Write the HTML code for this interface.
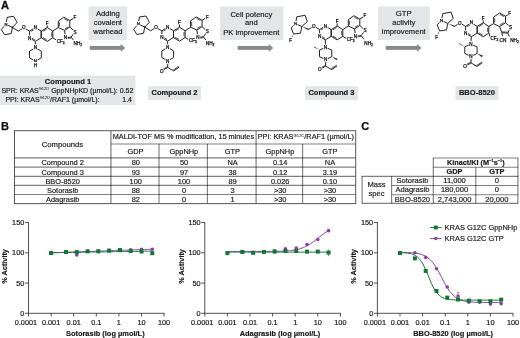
<!DOCTYPE html>
<html><head><meta charset="utf-8"><style>
html,body{margin:0;padding:0;background:#fff;}
svg{display:block;}
text{font-family:'Liberation Sans', Arial, Helvetica, sans-serif;}
.g text, text.g{stroke:#1a1a1a;stroke-width:0.18px;}
text.m{stroke:#111;stroke-width:0.25px;}
</style></head><body>
<svg width="520" height="338" viewBox="0 0 520 338">
<rect width="520" height="338" fill="#fff"/>
<text x="0.9" y="8.9" font-size="11.1" font-weight="bold" fill="#111" stroke="#111" stroke-width="0.3">A</text>
<rect x="88.5" y="6.5" width="38.7" height="33.5" fill="#e4e5e7"/>
<text class="g" x="107.85" y="16.3" font-size="7.6" text-anchor="middle" font-weight="normal" fill="#1a1a1a">Adding</text>
<text class="g" x="107.85" y="25.3" font-size="7.6" text-anchor="middle" font-weight="normal" fill="#1a1a1a">covalent</text>
<text class="g" x="107.85" y="34.3" font-size="7.6" text-anchor="middle" font-weight="normal" fill="#1a1a1a">warhead</text>
<rect x="89.8" y="45.949999999999996" width="31.5" height="3.9" fill="#88898d"/>
<polygon points="120.7,44.1 125.3,47.9 120.7,51.699999999999996" fill="#88898d"/>
<rect x="220.1" y="6.5" width="63.3" height="33.5" fill="#e4e5e7"/>
<text class="g" x="251.3" y="16.6" font-size="7.6" text-anchor="middle" font-weight="normal" fill="#1a1a1a">Cell potency</text>
<text class="g" x="251.3" y="25.4" font-size="7.6" text-anchor="middle" font-weight="normal" fill="#1a1a1a">and</text>
<text class="g" x="251.3" y="34.5" font-size="7.6" text-anchor="middle" font-weight="normal" fill="#1a1a1a">PK improvement</text>
<rect x="237.7" y="45.949999999999996" width="31.600000000000023" height="3.9" fill="#88898d"/>
<polygon points="268.7,44.1 273.3,47.9 268.7,51.699999999999996" fill="#88898d"/>
<rect x="378" y="6.5" width="51.8" height="33.5" fill="#e4e5e7"/>
<text class="g" x="403.8" y="16.2" font-size="7.8" text-anchor="middle" font-weight="normal" fill="#1a1a1a">GTP</text>
<text class="g" x="403.8" y="25.3" font-size="7.6" text-anchor="middle" font-weight="normal" fill="#1a1a1a">activity</text>
<text class="g" x="403.8" y="34.3" font-size="7.6" text-anchor="middle" font-weight="normal" fill="#1a1a1a">improvement</text>
<rect x="385.8" y="45.949999999999996" width="31.69999999999999" height="3.9" fill="#88898d"/>
<polygon points="416.9,44.1 421.5,47.9 416.9,51.699999999999996" fill="#88898d"/>
<line x1="6.00" y1="24.20" x2="7.20" y2="17.30" stroke="#161616" stroke-width="0.95"/>
<line x1="7.20" y1="17.30" x2="13.60" y2="16.30" stroke="#161616" stroke-width="0.95"/>
<line x1="13.60" y1="16.30" x2="17.10" y2="22.50" stroke="#161616" stroke-width="0.95"/>
<line x1="17.10" y1="22.50" x2="12.40" y2="27.40" stroke="#161616" stroke-width="0.95"/>
<line x1="12.40" y1="27.40" x2="6.00" y2="24.20" stroke="#161616" stroke-width="0.95"/>
<line x1="6.00" y1="24.20" x2="1.30" y2="29.60" stroke="#161616" stroke-width="0.95"/>
<line x1="1.30" y1="29.60" x2="4.60" y2="34.80" stroke="#161616" stroke-width="0.95"/>
<line x1="4.60" y1="34.80" x2="11.30" y2="33.50" stroke="#161616" stroke-width="0.95"/>
<line x1="11.30" y1="33.50" x2="12.40" y2="27.40" stroke="#161616" stroke-width="0.95"/>
<line x1="12.40" y1="27.40" x2="18.30" y2="31.10" stroke="#161616" stroke-width="0.95"/>
<circle cx="12.40" cy="27.40" r="0.75" fill="#111"/>
<line x1="18.30" y1="31.10" x2="23.70" y2="27.75" stroke="#161616" stroke-width="0.95"/>
<line x1="23.70" y1="27.75" x2="29.60" y2="31.10" stroke="#161616" stroke-width="0.95"/>
<line x1="29.60" y1="31.10" x2="35.30" y2="27.50" stroke="#161616" stroke-width="0.95"/>
<line x1="41.20" y1="31.10" x2="47.20" y2="27.50" stroke="#161616" stroke-width="0.95"/>
<line x1="35.30" y1="27.50" x2="41.20" y2="31.10" stroke="#161616" stroke-width="0.95"/>
<line x1="47.20" y1="27.50" x2="52.80" y2="31.10" stroke="#161616" stroke-width="0.95"/>
<line x1="41.20" y1="31.10" x2="41.20" y2="37.80" stroke="#161616" stroke-width="0.95"/>
<line x1="52.80" y1="31.10" x2="52.80" y2="37.80" stroke="#161616" stroke-width="0.95"/>
<line x1="41.20" y1="37.80" x2="35.30" y2="41.40" stroke="#161616" stroke-width="0.95"/>
<line x1="52.80" y1="37.80" x2="47.20" y2="41.40" stroke="#161616" stroke-width="0.95"/>
<line x1="35.30" y1="41.40" x2="29.60" y2="38.00" stroke="#161616" stroke-width="0.95"/>
<line x1="47.20" y1="41.40" x2="41.20" y2="37.80" stroke="#161616" stroke-width="0.95"/>
<line x1="29.60" y1="38.00" x2="29.60" y2="31.10" stroke="#161616" stroke-width="0.95"/>
<line x1="41.20" y1="37.80" x2="41.20" y2="31.10" stroke="#161616" stroke-width="0.95"/>
<line x1="31.21" y1="31.38" x2="34.86" y2="29.08" stroke="#161616" stroke-width="0.75"/>
<line x1="31.19" y1="37.67" x2="34.84" y2="39.84" stroke="#161616" stroke-width="0.75"/>
<line x1="42.85" y1="31.40" x2="46.69" y2="29.09" stroke="#161616" stroke-width="0.75"/>
<line x1="42.85" y1="37.50" x2="46.69" y2="39.81" stroke="#161616" stroke-width="0.75"/>
<line x1="51.70" y1="32.31" x2="51.70" y2="36.59" stroke="#161616" stroke-width="0.75"/>
<line x1="47.20" y1="27.50" x2="47.20" y2="24.30" stroke="#161616" stroke-width="0.95"/>
<text x="47.20" y="24.56" font-size="4.6" text-anchor="middle" fill="#fff" stroke="#fff" stroke-width="1.8" stroke-linejoin="round">F</text>
<text class="m" x="47.20" y="24.56" font-size="4.6" text-anchor="middle" fill="#111">F</text>
<line x1="52.80" y1="37.80" x2="56.40" y2="40.00" stroke="#161616" stroke-width="0.95"/>
<text x="56.80" y="42.60" font-size="4.5" text-anchor="start" fill="#fff" stroke="#fff" stroke-width="1.8" stroke-linejoin="round">CF<tspan font-size="3.2" dy="0.9">3</tspan></text>
<text class="m" x="56.80" y="42.60" font-size="4.5" text-anchor="start" fill="#111">CF<tspan font-size="3.2" dy="0.9">3</tspan></text>
<line x1="52.80" y1="31.10" x2="58.30" y2="27.50" stroke="#161616" stroke-width="0.95"/>
<line x1="58.30" y1="27.50" x2="58.30" y2="21.20" stroke="#161616" stroke-width="0.95"/>
<line x1="58.30" y1="21.20" x2="63.80" y2="17.20" stroke="#161616" stroke-width="0.95"/>
<line x1="63.80" y1="17.20" x2="69.80" y2="20.50" stroke="#161616" stroke-width="0.95"/>
<line x1="69.80" y1="20.50" x2="69.80" y2="27.00" stroke="#161616" stroke-width="0.95"/>
<line x1="69.80" y1="27.00" x2="64.60" y2="30.40" stroke="#161616" stroke-width="0.95"/>
<line x1="64.60" y1="30.40" x2="58.30" y2="27.50" stroke="#161616" stroke-width="0.95"/>
<line x1="59.40" y1="26.37" x2="59.40" y2="22.33" stroke="#161616" stroke-width="0.75"/>
<line x1="64.35" y1="18.76" x2="68.19" y2="20.87" stroke="#161616" stroke-width="0.75"/>
<line x1="68.26" y1="26.69" x2="64.93" y2="28.87" stroke="#161616" stroke-width="0.75"/>
<line x1="69.80" y1="20.50" x2="73.20" y2="18.50" stroke="#161616" stroke-width="0.95"/>
<text x="75.00" y="18.96" font-size="4.6" text-anchor="middle" fill="#fff" stroke="#fff" stroke-width="1.8" stroke-linejoin="round">F</text>
<text class="m" x="75.00" y="18.96" font-size="4.6" text-anchor="middle" fill="#111">F</text>
<line x1="69.80" y1="27.00" x2="75.10" y2="31.90" stroke="#161616" stroke-width="0.95"/>
<line x1="64.60" y1="30.40" x2="65.50" y2="37.70" stroke="#161616" stroke-width="0.95"/>
<line x1="65.50" y1="37.70" x2="71.10" y2="37.10" stroke="#161616" stroke-width="0.95"/>
<line x1="71.10" y1="37.10" x2="75.10" y2="31.90" stroke="#161616" stroke-width="0.95"/>
<line x1="65.60" y1="38.59" x2="71.20" y2="37.99" stroke="#161616" stroke-width="0.75"/>
<line x1="71.10" y1="37.10" x2="73.90" y2="40.70" stroke="#161616" stroke-width="0.95"/>
<text x="75.10" y="33.56" font-size="4.6" text-anchor="middle" fill="#fff" stroke="#fff" stroke-width="1.8" stroke-linejoin="round">S</text>
<text class="m" x="75.10" y="33.56" font-size="4.6" text-anchor="middle" fill="#111">S</text>
<text x="65.50" y="39.36" font-size="4.6" text-anchor="middle" fill="#fff" stroke="#fff" stroke-width="1.8" stroke-linejoin="round">N</text>
<text class="m" x="65.50" y="39.36" font-size="4.6" text-anchor="middle" fill="#111">N</text>
<text x="73.50" y="44.90" font-size="4.7" text-anchor="start" fill="#fff" stroke="#fff" stroke-width="1.8" stroke-linejoin="round">NH<tspan font-size="3.3" dy="0.9">2</tspan></text>
<text class="m" x="73.50" y="44.90" font-size="4.7" text-anchor="start" fill="#111">NH<tspan font-size="3.3" dy="0.9">2</tspan></text>
<line x1="35.30" y1="41.40" x2="35.40" y2="47.70" stroke="#161616" stroke-width="0.95"/>
<line x1="35.40" y1="47.70" x2="29.50" y2="51.20" stroke="#161616" stroke-width="0.95"/>
<line x1="29.50" y1="51.20" x2="29.50" y2="57.80" stroke="#161616" stroke-width="0.95"/>
<line x1="29.50" y1="57.80" x2="35.40" y2="61.30" stroke="#161616" stroke-width="0.95"/>
<line x1="35.40" y1="61.30" x2="41.30" y2="57.80" stroke="#161616" stroke-width="0.95"/>
<line x1="41.30" y1="57.80" x2="41.30" y2="51.20" stroke="#161616" stroke-width="0.95"/>
<line x1="41.30" y1="51.20" x2="35.40" y2="47.70" stroke="#161616" stroke-width="0.95"/>
<text x="6.00" y="25.71" font-size="4.2" text-anchor="middle" fill="#fff" stroke="#fff" stroke-width="1.8" stroke-linejoin="round">N</text>
<text class="m" x="6.00" y="25.71" font-size="4.2" text-anchor="middle" fill="#111">N</text>
<text x="23.70" y="29.41" font-size="4.6" text-anchor="middle" fill="#fff" stroke="#fff" stroke-width="1.8" stroke-linejoin="round">O</text>
<text class="m" x="23.70" y="29.41" font-size="4.6" text-anchor="middle" fill="#111">O</text>
<text x="35.30" y="29.16" font-size="4.6" text-anchor="middle" fill="#fff" stroke="#fff" stroke-width="1.8" stroke-linejoin="round">N</text>
<text class="m" x="35.30" y="29.16" font-size="4.6" text-anchor="middle" fill="#111">N</text>
<text x="29.60" y="39.66" font-size="4.6" text-anchor="middle" fill="#fff" stroke="#fff" stroke-width="1.8" stroke-linejoin="round">N</text>
<text class="m" x="29.60" y="39.66" font-size="4.6" text-anchor="middle" fill="#111">N</text>
<text x="35.40" y="49.36" font-size="4.6" text-anchor="middle" fill="#fff" stroke="#fff" stroke-width="1.8" stroke-linejoin="round">N</text>
<text class="m" x="35.40" y="49.36" font-size="4.6" text-anchor="middle" fill="#111">N</text>
<text x="35.40" y="62.96" font-size="4.6" text-anchor="middle" fill="#fff" stroke="#fff" stroke-width="1.8" stroke-linejoin="round">N</text>
<text class="m" x="35.40" y="62.96" font-size="4.6" text-anchor="middle" fill="#111">N</text>
<text x="35.40" y="66.86" font-size="4.6" text-anchor="middle" fill="#fff" stroke="#fff" stroke-width="1.8" stroke-linejoin="round">H</text>
<text class="m" x="35.40" y="66.86" font-size="4.6" text-anchor="middle" fill="#111">H</text>
<line x1="138.30" y1="23.90" x2="139.50" y2="17.00" stroke="#161616" stroke-width="0.95"/>
<line x1="139.50" y1="17.00" x2="145.90" y2="16.00" stroke="#161616" stroke-width="0.95"/>
<line x1="145.90" y1="16.00" x2="149.40" y2="22.20" stroke="#161616" stroke-width="0.95"/>
<line x1="149.40" y1="22.20" x2="144.70" y2="27.10" stroke="#161616" stroke-width="0.95"/>
<line x1="144.70" y1="27.10" x2="138.30" y2="23.90" stroke="#161616" stroke-width="0.95"/>
<line x1="138.30" y1="23.90" x2="133.60" y2="29.30" stroke="#161616" stroke-width="0.95"/>
<line x1="133.60" y1="29.30" x2="136.90" y2="34.50" stroke="#161616" stroke-width="0.95"/>
<line x1="136.90" y1="34.50" x2="143.60" y2="33.20" stroke="#161616" stroke-width="0.95"/>
<line x1="143.60" y1="33.20" x2="144.70" y2="27.10" stroke="#161616" stroke-width="0.95"/>
<line x1="144.70" y1="27.10" x2="150.60" y2="30.80" stroke="#161616" stroke-width="0.95"/>
<circle cx="144.70" cy="27.10" r="0.75" fill="#111"/>
<line x1="150.60" y1="30.80" x2="156.00" y2="27.45" stroke="#161616" stroke-width="0.95"/>
<line x1="156.00" y1="27.45" x2="161.90" y2="30.80" stroke="#161616" stroke-width="0.95"/>
<line x1="161.90" y1="30.80" x2="167.60" y2="27.20" stroke="#161616" stroke-width="0.95"/>
<line x1="173.50" y1="30.80" x2="179.50" y2="27.20" stroke="#161616" stroke-width="0.95"/>
<line x1="167.60" y1="27.20" x2="173.50" y2="30.80" stroke="#161616" stroke-width="0.95"/>
<line x1="179.50" y1="27.20" x2="185.10" y2="30.80" stroke="#161616" stroke-width="0.95"/>
<line x1="173.50" y1="30.80" x2="173.50" y2="37.50" stroke="#161616" stroke-width="0.95"/>
<line x1="185.10" y1="30.80" x2="185.10" y2="37.50" stroke="#161616" stroke-width="0.95"/>
<line x1="173.50" y1="37.50" x2="167.60" y2="41.10" stroke="#161616" stroke-width="0.95"/>
<line x1="185.10" y1="37.50" x2="179.50" y2="41.10" stroke="#161616" stroke-width="0.95"/>
<line x1="167.60" y1="41.10" x2="161.90" y2="37.70" stroke="#161616" stroke-width="0.95"/>
<line x1="179.50" y1="41.10" x2="173.50" y2="37.50" stroke="#161616" stroke-width="0.95"/>
<line x1="161.90" y1="37.70" x2="161.90" y2="30.80" stroke="#161616" stroke-width="0.95"/>
<line x1="173.50" y1="37.50" x2="173.50" y2="30.80" stroke="#161616" stroke-width="0.95"/>
<line x1="163.51" y1="31.08" x2="167.16" y2="28.78" stroke="#161616" stroke-width="0.75"/>
<line x1="163.49" y1="37.37" x2="167.14" y2="39.54" stroke="#161616" stroke-width="0.75"/>
<line x1="175.15" y1="31.10" x2="178.99" y2="28.79" stroke="#161616" stroke-width="0.75"/>
<line x1="175.15" y1="37.20" x2="178.99" y2="39.51" stroke="#161616" stroke-width="0.75"/>
<line x1="184.00" y1="32.01" x2="184.00" y2="36.29" stroke="#161616" stroke-width="0.75"/>
<line x1="179.50" y1="27.20" x2="179.50" y2="24.00" stroke="#161616" stroke-width="0.95"/>
<text x="179.50" y="24.26" font-size="4.6" text-anchor="middle" fill="#fff" stroke="#fff" stroke-width="1.8" stroke-linejoin="round">F</text>
<text class="m" x="179.50" y="24.26" font-size="4.6" text-anchor="middle" fill="#111">F</text>
<line x1="185.10" y1="37.50" x2="188.70" y2="39.70" stroke="#161616" stroke-width="0.95"/>
<text x="189.10" y="42.30" font-size="4.5" text-anchor="start" fill="#fff" stroke="#fff" stroke-width="1.8" stroke-linejoin="round">CF<tspan font-size="3.2" dy="0.9">3</tspan></text>
<text class="m" x="189.10" y="42.30" font-size="4.5" text-anchor="start" fill="#111">CF<tspan font-size="3.2" dy="0.9">3</tspan></text>
<line x1="185.10" y1="30.80" x2="190.60" y2="27.20" stroke="#161616" stroke-width="0.95"/>
<line x1="190.60" y1="27.20" x2="190.60" y2="20.90" stroke="#161616" stroke-width="0.95"/>
<line x1="190.60" y1="20.90" x2="196.10" y2="16.90" stroke="#161616" stroke-width="0.95"/>
<line x1="196.10" y1="16.90" x2="202.10" y2="20.20" stroke="#161616" stroke-width="0.95"/>
<line x1="202.10" y1="20.20" x2="202.10" y2="26.70" stroke="#161616" stroke-width="0.95"/>
<line x1="202.10" y1="26.70" x2="196.90" y2="30.10" stroke="#161616" stroke-width="0.95"/>
<line x1="196.90" y1="30.10" x2="190.60" y2="27.20" stroke="#161616" stroke-width="0.95"/>
<line x1="191.70" y1="26.07" x2="191.70" y2="22.03" stroke="#161616" stroke-width="0.75"/>
<line x1="196.65" y1="18.46" x2="200.49" y2="20.57" stroke="#161616" stroke-width="0.75"/>
<line x1="200.56" y1="26.39" x2="197.23" y2="28.57" stroke="#161616" stroke-width="0.75"/>
<line x1="202.10" y1="20.20" x2="205.50" y2="18.20" stroke="#161616" stroke-width="0.95"/>
<text x="207.30" y="18.66" font-size="4.6" text-anchor="middle" fill="#fff" stroke="#fff" stroke-width="1.8" stroke-linejoin="round">F</text>
<text class="m" x="207.30" y="18.66" font-size="4.6" text-anchor="middle" fill="#111">F</text>
<line x1="202.10" y1="26.70" x2="207.40" y2="31.60" stroke="#161616" stroke-width="0.95"/>
<line x1="196.90" y1="30.10" x2="197.80" y2="37.40" stroke="#161616" stroke-width="0.95"/>
<line x1="197.80" y1="37.40" x2="203.40" y2="36.80" stroke="#161616" stroke-width="0.95"/>
<line x1="203.40" y1="36.80" x2="207.40" y2="31.60" stroke="#161616" stroke-width="0.95"/>
<line x1="197.90" y1="38.29" x2="203.50" y2="37.69" stroke="#161616" stroke-width="0.75"/>
<line x1="203.40" y1="36.80" x2="206.20" y2="40.40" stroke="#161616" stroke-width="0.95"/>
<text x="207.40" y="33.26" font-size="4.6" text-anchor="middle" fill="#fff" stroke="#fff" stroke-width="1.8" stroke-linejoin="round">S</text>
<text class="m" x="207.40" y="33.26" font-size="4.6" text-anchor="middle" fill="#111">S</text>
<text x="197.80" y="39.06" font-size="4.6" text-anchor="middle" fill="#fff" stroke="#fff" stroke-width="1.8" stroke-linejoin="round">N</text>
<text class="m" x="197.80" y="39.06" font-size="4.6" text-anchor="middle" fill="#111">N</text>
<text x="205.80" y="44.60" font-size="4.7" text-anchor="start" fill="#fff" stroke="#fff" stroke-width="1.8" stroke-linejoin="round">NH<tspan font-size="3.3" dy="0.9">2</tspan></text>
<text class="m" x="205.80" y="44.60" font-size="4.7" text-anchor="start" fill="#111">NH<tspan font-size="3.3" dy="0.9">2</tspan></text>
<line x1="167.60" y1="41.10" x2="167.70" y2="47.40" stroke="#161616" stroke-width="0.95"/>
<line x1="167.70" y1="47.40" x2="161.80" y2="50.90" stroke="#161616" stroke-width="0.95"/>
<line x1="161.80" y1="50.90" x2="161.80" y2="57.50" stroke="#161616" stroke-width="0.95"/>
<line x1="161.80" y1="57.50" x2="167.70" y2="61.00" stroke="#161616" stroke-width="0.95"/>
<line x1="167.70" y1="61.00" x2="173.60" y2="57.50" stroke="#161616" stroke-width="0.95"/>
<line x1="173.60" y1="57.50" x2="173.60" y2="50.90" stroke="#161616" stroke-width="0.95"/>
<line x1="173.60" y1="50.90" x2="167.70" y2="47.40" stroke="#161616" stroke-width="0.95"/>
<line x1="167.70" y1="61.00" x2="167.70" y2="67.40" stroke="#161616" stroke-width="0.95"/>
<line x1="167.70" y1="67.40" x2="161.70" y2="71.00" stroke="#161616" stroke-width="0.95"/>
<line x1="167.24" y1="66.63" x2="161.24" y2="70.23" stroke="#161616" stroke-width="0.75"/>
<line x1="167.70" y1="67.40" x2="173.70" y2="70.90" stroke="#161616" stroke-width="0.95"/>
<line x1="173.70" y1="70.90" x2="179.10" y2="67.20" stroke="#161616" stroke-width="0.95"/>
<line x1="173.19" y1="70.16" x2="178.59" y2="66.46" stroke="#161616" stroke-width="0.75"/>
<text x="161.70" y="72.66" font-size="4.6" text-anchor="middle" fill="#fff" stroke="#fff" stroke-width="1.8" stroke-linejoin="round">O</text>
<text class="m" x="161.70" y="72.66" font-size="4.6" text-anchor="middle" fill="#111">O</text>
<text x="138.30" y="25.41" font-size="4.2" text-anchor="middle" fill="#fff" stroke="#fff" stroke-width="1.8" stroke-linejoin="round">N</text>
<text class="m" x="138.30" y="25.41" font-size="4.2" text-anchor="middle" fill="#111">N</text>
<text x="156.00" y="29.11" font-size="4.6" text-anchor="middle" fill="#fff" stroke="#fff" stroke-width="1.8" stroke-linejoin="round">O</text>
<text class="m" x="156.00" y="29.11" font-size="4.6" text-anchor="middle" fill="#111">O</text>
<text x="167.60" y="28.86" font-size="4.6" text-anchor="middle" fill="#fff" stroke="#fff" stroke-width="1.8" stroke-linejoin="round">N</text>
<text class="m" x="167.60" y="28.86" font-size="4.6" text-anchor="middle" fill="#111">N</text>
<text x="161.90" y="39.36" font-size="4.6" text-anchor="middle" fill="#fff" stroke="#fff" stroke-width="1.8" stroke-linejoin="round">N</text>
<text class="m" x="161.90" y="39.36" font-size="4.6" text-anchor="middle" fill="#111">N</text>
<text x="167.70" y="49.06" font-size="4.6" text-anchor="middle" fill="#fff" stroke="#fff" stroke-width="1.8" stroke-linejoin="round">N</text>
<text class="m" x="167.70" y="49.06" font-size="4.6" text-anchor="middle" fill="#111">N</text>
<text x="167.70" y="62.66" font-size="4.6" text-anchor="middle" fill="#fff" stroke="#fff" stroke-width="1.8" stroke-linejoin="round">N</text>
<text class="m" x="167.70" y="62.66" font-size="4.6" text-anchor="middle" fill="#111">N</text>
<line x1="295.50" y1="23.60" x2="296.80" y2="16.80" stroke="#161616" stroke-width="0.95"/>
<line x1="296.80" y1="16.80" x2="305.10" y2="15.30" stroke="#161616" stroke-width="0.95"/>
<line x1="305.10" y1="15.30" x2="307.25" y2="21.60" stroke="#161616" stroke-width="0.95"/>
<line x1="307.25" y1="21.60" x2="301.80" y2="26.60" stroke="#161616" stroke-width="0.95"/>
<line x1="301.80" y1="26.60" x2="295.50" y2="23.60" stroke="#161616" stroke-width="0.95"/>
<line x1="295.50" y1="23.60" x2="291.15" y2="27.95" stroke="#161616" stroke-width="0.95"/>
<line x1="291.15" y1="27.95" x2="293.60" y2="34.10" stroke="#161616" stroke-width="0.95"/>
<line x1="293.60" y1="34.10" x2="300.50" y2="33.10" stroke="#161616" stroke-width="0.95"/>
<line x1="300.50" y1="33.10" x2="301.80" y2="26.60" stroke="#161616" stroke-width="0.95"/>
<polygon points="301.80,26.60 308.33,30.14 308.87,28.86" fill="#2a2a2a"/>
<polygon points="293.60,34.10 289.99,39.16 291.21,39.84" fill="#2a2a2a"/>
<line x1="308.60" y1="29.50" x2="313.80" y2="26.10" stroke="#161616" stroke-width="0.95"/>
<line x1="313.80" y1="26.10" x2="319.60" y2="29.60" stroke="#161616" stroke-width="0.95"/>
<line x1="319.60" y1="29.60" x2="325.30" y2="26.00" stroke="#161616" stroke-width="0.95"/>
<line x1="331.20" y1="29.60" x2="337.20" y2="26.00" stroke="#161616" stroke-width="0.95"/>
<line x1="325.30" y1="26.00" x2="331.20" y2="29.60" stroke="#161616" stroke-width="0.95"/>
<line x1="337.20" y1="26.00" x2="342.80" y2="29.60" stroke="#161616" stroke-width="0.95"/>
<line x1="331.20" y1="29.60" x2="331.20" y2="36.30" stroke="#161616" stroke-width="0.95"/>
<line x1="342.80" y1="29.60" x2="342.80" y2="36.30" stroke="#161616" stroke-width="0.95"/>
<line x1="331.20" y1="36.30" x2="325.30" y2="39.90" stroke="#161616" stroke-width="0.95"/>
<line x1="342.80" y1="36.30" x2="337.20" y2="39.90" stroke="#161616" stroke-width="0.95"/>
<line x1="325.30" y1="39.90" x2="319.60" y2="36.50" stroke="#161616" stroke-width="0.95"/>
<line x1="337.20" y1="39.90" x2="331.20" y2="36.30" stroke="#161616" stroke-width="0.95"/>
<line x1="319.60" y1="36.50" x2="319.60" y2="29.60" stroke="#161616" stroke-width="0.95"/>
<line x1="331.20" y1="36.30" x2="331.20" y2="29.60" stroke="#161616" stroke-width="0.95"/>
<line x1="321.21" y1="29.88" x2="324.86" y2="27.58" stroke="#161616" stroke-width="0.75"/>
<line x1="321.19" y1="36.17" x2="324.84" y2="38.34" stroke="#161616" stroke-width="0.75"/>
<line x1="332.85" y1="29.90" x2="336.69" y2="27.59" stroke="#161616" stroke-width="0.75"/>
<line x1="332.85" y1="36.00" x2="336.69" y2="38.31" stroke="#161616" stroke-width="0.75"/>
<line x1="341.70" y1="30.81" x2="341.70" y2="35.09" stroke="#161616" stroke-width="0.75"/>
<line x1="337.20" y1="26.00" x2="337.20" y2="22.80" stroke="#161616" stroke-width="0.95"/>
<text x="337.20" y="23.06" font-size="4.6" text-anchor="middle" fill="#fff" stroke="#fff" stroke-width="1.8" stroke-linejoin="round">F</text>
<text class="m" x="337.20" y="23.06" font-size="4.6" text-anchor="middle" fill="#111">F</text>
<line x1="342.80" y1="36.30" x2="346.40" y2="38.50" stroke="#161616" stroke-width="0.95"/>
<text x="346.80" y="41.10" font-size="4.5" text-anchor="start" fill="#fff" stroke="#fff" stroke-width="1.8" stroke-linejoin="round">CF<tspan font-size="3.2" dy="0.9">3</tspan></text>
<text class="m" x="346.80" y="41.10" font-size="4.5" text-anchor="start" fill="#111">CF<tspan font-size="3.2" dy="0.9">3</tspan></text>
<line x1="342.80" y1="29.60" x2="348.30" y2="26.00" stroke="#161616" stroke-width="0.95"/>
<line x1="348.30" y1="26.00" x2="348.30" y2="19.70" stroke="#161616" stroke-width="0.95"/>
<line x1="348.30" y1="19.70" x2="353.80" y2="15.70" stroke="#161616" stroke-width="0.95"/>
<line x1="353.80" y1="15.70" x2="359.80" y2="19.00" stroke="#161616" stroke-width="0.95"/>
<line x1="359.80" y1="19.00" x2="359.80" y2="25.50" stroke="#161616" stroke-width="0.95"/>
<line x1="359.80" y1="25.50" x2="354.60" y2="28.90" stroke="#161616" stroke-width="0.95"/>
<line x1="354.60" y1="28.90" x2="348.30" y2="26.00" stroke="#161616" stroke-width="0.95"/>
<line x1="349.40" y1="24.87" x2="349.40" y2="20.83" stroke="#161616" stroke-width="0.75"/>
<line x1="354.35" y1="17.26" x2="358.19" y2="19.37" stroke="#161616" stroke-width="0.75"/>
<line x1="358.26" y1="25.19" x2="354.93" y2="27.37" stroke="#161616" stroke-width="0.75"/>
<line x1="359.80" y1="19.00" x2="363.20" y2="17.00" stroke="#161616" stroke-width="0.95"/>
<text x="365.00" y="17.46" font-size="4.6" text-anchor="middle" fill="#fff" stroke="#fff" stroke-width="1.8" stroke-linejoin="round">F</text>
<text class="m" x="365.00" y="17.46" font-size="4.6" text-anchor="middle" fill="#111">F</text>
<line x1="359.80" y1="25.50" x2="365.10" y2="30.40" stroke="#161616" stroke-width="0.95"/>
<line x1="354.60" y1="28.90" x2="355.50" y2="36.20" stroke="#161616" stroke-width="0.95"/>
<line x1="355.50" y1="36.20" x2="361.10" y2="35.60" stroke="#161616" stroke-width="0.95"/>
<line x1="361.10" y1="35.60" x2="365.10" y2="30.40" stroke="#161616" stroke-width="0.95"/>
<line x1="355.60" y1="37.09" x2="361.20" y2="36.49" stroke="#161616" stroke-width="0.75"/>
<line x1="361.10" y1="35.60" x2="363.90" y2="39.20" stroke="#161616" stroke-width="0.95"/>
<text x="365.10" y="32.06" font-size="4.6" text-anchor="middle" fill="#fff" stroke="#fff" stroke-width="1.8" stroke-linejoin="round">S</text>
<text class="m" x="365.10" y="32.06" font-size="4.6" text-anchor="middle" fill="#111">S</text>
<text x="355.50" y="37.86" font-size="4.6" text-anchor="middle" fill="#fff" stroke="#fff" stroke-width="1.8" stroke-linejoin="round">N</text>
<text class="m" x="355.50" y="37.86" font-size="4.6" text-anchor="middle" fill="#111">N</text>
<text x="364.30" y="44.60" font-size="4.7" text-anchor="start" fill="#fff" stroke="#fff" stroke-width="1.8" stroke-linejoin="round">NH<tspan font-size="3.3" dy="0.9">2</tspan></text>
<text class="m" x="364.30" y="44.60" font-size="4.7" text-anchor="start" fill="#111">NH<tspan font-size="3.3" dy="0.9">2</tspan></text>
<line x1="325.30" y1="39.90" x2="325.50" y2="47.40" stroke="#161616" stroke-width="0.95"/>
<line x1="325.50" y1="47.40" x2="319.50" y2="50.10" stroke="#161616" stroke-width="0.95"/>
<line x1="319.50" y1="50.10" x2="319.50" y2="56.70" stroke="#161616" stroke-width="0.95"/>
<line x1="319.50" y1="56.70" x2="325.70" y2="59.70" stroke="#161616" stroke-width="0.95"/>
<line x1="325.70" y1="59.70" x2="331.80" y2="56.70" stroke="#161616" stroke-width="0.95"/>
<line x1="331.80" y1="56.70" x2="331.80" y2="50.10" stroke="#161616" stroke-width="0.95"/>
<line x1="331.80" y1="50.10" x2="325.50" y2="47.40" stroke="#161616" stroke-width="0.95"/>
<line x1="325.70" y1="59.70" x2="325.70" y2="66.10" stroke="#161616" stroke-width="0.95"/>
<line x1="325.70" y1="66.10" x2="319.70" y2="69.70" stroke="#161616" stroke-width="0.95"/>
<line x1="325.24" y1="65.33" x2="319.24" y2="68.93" stroke="#161616" stroke-width="0.75"/>
<line x1="325.70" y1="66.10" x2="331.70" y2="69.60" stroke="#161616" stroke-width="0.95"/>
<line x1="331.70" y1="69.60" x2="337.10" y2="65.90" stroke="#161616" stroke-width="0.95"/>
<line x1="331.19" y1="68.86" x2="336.59" y2="65.16" stroke="#161616" stroke-width="0.75"/>
<text x="319.70" y="71.36" font-size="4.6" text-anchor="middle" fill="#fff" stroke="#fff" stroke-width="1.8" stroke-linejoin="round">O</text>
<text class="m" x="319.70" y="71.36" font-size="4.6" text-anchor="middle" fill="#111">O</text>
<polygon points="319.50,50.10 314.33,46.51 313.87,47.29" fill="#2a2a2a"/>
<polygon points="331.80,56.70 336.66,60.34 337.54,58.66" fill="#2a2a2a"/>
<text x="295.50" y="25.11" font-size="4.2" text-anchor="middle" fill="#fff" stroke="#fff" stroke-width="1.8" stroke-linejoin="round">N</text>
<text class="m" x="295.50" y="25.11" font-size="4.2" text-anchor="middle" fill="#111">N</text>
<text x="313.80" y="27.76" font-size="4.6" text-anchor="middle" fill="#fff" stroke="#fff" stroke-width="1.8" stroke-linejoin="round">O</text>
<text class="m" x="313.80" y="27.76" font-size="4.6" text-anchor="middle" fill="#111">O</text>
<text x="325.30" y="27.66" font-size="4.6" text-anchor="middle" fill="#fff" stroke="#fff" stroke-width="1.8" stroke-linejoin="round">N</text>
<text class="m" x="325.30" y="27.66" font-size="4.6" text-anchor="middle" fill="#111">N</text>
<text x="319.60" y="38.16" font-size="4.6" text-anchor="middle" fill="#fff" stroke="#fff" stroke-width="1.8" stroke-linejoin="round">N</text>
<text class="m" x="319.60" y="38.16" font-size="4.6" text-anchor="middle" fill="#111">N</text>
<text x="325.50" y="49.06" font-size="4.6" text-anchor="middle" fill="#fff" stroke="#fff" stroke-width="1.8" stroke-linejoin="round">N</text>
<text class="m" x="325.50" y="49.06" font-size="4.6" text-anchor="middle" fill="#111">N</text>
<text x="325.70" y="61.36" font-size="4.6" text-anchor="middle" fill="#fff" stroke="#fff" stroke-width="1.8" stroke-linejoin="round">N</text>
<text class="m" x="325.70" y="61.36" font-size="4.6" text-anchor="middle" fill="#111">N</text>
<text x="290.60" y="41.76" font-size="4.6" text-anchor="middle" fill="#fff" stroke="#fff" stroke-width="1.8" stroke-linejoin="round">F</text>
<text class="m" x="290.60" y="41.76" font-size="4.6" text-anchor="middle" fill="#111">F</text>
<line x1="441.50" y1="20.40" x2="442.80" y2="13.60" stroke="#161616" stroke-width="0.95"/>
<line x1="442.80" y1="13.60" x2="451.10" y2="12.10" stroke="#161616" stroke-width="0.95"/>
<line x1="451.10" y1="12.10" x2="453.25" y2="18.40" stroke="#161616" stroke-width="0.95"/>
<line x1="453.25" y1="18.40" x2="447.80" y2="23.40" stroke="#161616" stroke-width="0.95"/>
<line x1="447.80" y1="23.40" x2="441.50" y2="20.40" stroke="#161616" stroke-width="0.95"/>
<line x1="441.50" y1="20.40" x2="437.15" y2="24.75" stroke="#161616" stroke-width="0.95"/>
<line x1="437.15" y1="24.75" x2="439.60" y2="30.90" stroke="#161616" stroke-width="0.95"/>
<line x1="439.60" y1="30.90" x2="446.50" y2="29.90" stroke="#161616" stroke-width="0.95"/>
<line x1="446.50" y1="29.90" x2="447.80" y2="23.40" stroke="#161616" stroke-width="0.95"/>
<polygon points="447.80,23.40 454.33,26.94 454.87,25.66" fill="#2a2a2a"/>
<polygon points="439.60,30.90 435.99,35.96 437.21,36.64" fill="#2a2a2a"/>
<line x1="454.60" y1="26.30" x2="459.80" y2="22.90" stroke="#161616" stroke-width="0.95"/>
<line x1="459.80" y1="22.90" x2="465.60" y2="26.40" stroke="#161616" stroke-width="0.95"/>
<line x1="465.60" y1="26.40" x2="471.30" y2="22.80" stroke="#161616" stroke-width="0.95"/>
<line x1="477.20" y1="26.40" x2="483.20" y2="22.80" stroke="#161616" stroke-width="0.95"/>
<line x1="471.30" y1="22.80" x2="477.20" y2="26.40" stroke="#161616" stroke-width="0.95"/>
<line x1="483.20" y1="22.80" x2="488.80" y2="26.40" stroke="#161616" stroke-width="0.95"/>
<line x1="477.20" y1="26.40" x2="477.20" y2="33.10" stroke="#161616" stroke-width="0.95"/>
<line x1="488.80" y1="26.40" x2="488.80" y2="33.10" stroke="#161616" stroke-width="0.95"/>
<line x1="477.20" y1="33.10" x2="471.30" y2="36.70" stroke="#161616" stroke-width="0.95"/>
<line x1="488.80" y1="33.10" x2="483.20" y2="36.70" stroke="#161616" stroke-width="0.95"/>
<line x1="471.30" y1="36.70" x2="465.60" y2="33.30" stroke="#161616" stroke-width="0.95"/>
<line x1="483.20" y1="36.70" x2="477.20" y2="33.10" stroke="#161616" stroke-width="0.95"/>
<line x1="465.60" y1="33.30" x2="465.60" y2="26.40" stroke="#161616" stroke-width="0.95"/>
<line x1="477.20" y1="33.10" x2="477.20" y2="26.40" stroke="#161616" stroke-width="0.95"/>
<line x1="467.21" y1="26.68" x2="470.86" y2="24.38" stroke="#161616" stroke-width="0.75"/>
<line x1="467.19" y1="32.97" x2="470.84" y2="35.14" stroke="#161616" stroke-width="0.75"/>
<line x1="478.85" y1="26.70" x2="482.69" y2="24.39" stroke="#161616" stroke-width="0.75"/>
<line x1="478.85" y1="32.80" x2="482.69" y2="35.11" stroke="#161616" stroke-width="0.75"/>
<line x1="487.70" y1="27.61" x2="487.70" y2="31.89" stroke="#161616" stroke-width="0.75"/>
<line x1="483.20" y1="22.80" x2="483.20" y2="19.60" stroke="#161616" stroke-width="0.95"/>
<text x="483.20" y="19.86" font-size="4.6" text-anchor="middle" fill="#fff" stroke="#fff" stroke-width="1.8" stroke-linejoin="round">F</text>
<text class="m" x="483.20" y="19.86" font-size="4.6" text-anchor="middle" fill="#111">F</text>
<line x1="488.80" y1="33.10" x2="490.20" y2="37.00" stroke="#161616" stroke-width="0.95"/>
<text x="490.60" y="40.00" font-size="4.5" text-anchor="start" fill="#fff" stroke="#fff" stroke-width="1.8" stroke-linejoin="round">CF<tspan font-size="3.2" dy="0.9">3</tspan></text>
<text class="m" x="490.60" y="40.00" font-size="4.5" text-anchor="start" fill="#111">CF<tspan font-size="3.2" dy="0.9">3</tspan></text>
<line x1="488.80" y1="26.40" x2="493.60" y2="23.70" stroke="#161616" stroke-width="0.95"/>
<line x1="493.60" y1="23.70" x2="493.60" y2="17.10" stroke="#161616" stroke-width="0.95"/>
<line x1="493.60" y1="17.10" x2="499.50" y2="13.00" stroke="#161616" stroke-width="0.95"/>
<line x1="499.50" y1="13.00" x2="505.50" y2="16.20" stroke="#161616" stroke-width="0.95"/>
<line x1="505.50" y1="16.20" x2="505.50" y2="22.80" stroke="#161616" stroke-width="0.95"/>
<line x1="505.50" y1="22.80" x2="499.60" y2="26.60" stroke="#161616" stroke-width="0.95"/>
<line x1="499.60" y1="26.60" x2="493.60" y2="23.70" stroke="#161616" stroke-width="0.95"/>
<line x1="494.70" y1="22.51" x2="494.70" y2="18.29" stroke="#161616" stroke-width="0.75"/>
<line x1="500.06" y1="14.55" x2="503.90" y2="16.59" stroke="#161616" stroke-width="0.75"/>
<line x1="503.84" y1="22.56" x2="500.07" y2="24.99" stroke="#161616" stroke-width="0.75"/>
<line x1="505.50" y1="16.20" x2="508.90" y2="14.20" stroke="#161616" stroke-width="0.95"/>
<text x="509.70" y="14.66" font-size="4.6" text-anchor="middle" fill="#fff" stroke="#fff" stroke-width="1.8" stroke-linejoin="round">F</text>
<text class="m" x="509.70" y="14.66" font-size="4.6" text-anchor="middle" fill="#111">F</text>
<line x1="505.50" y1="22.80" x2="510.60" y2="27.20" stroke="#161616" stroke-width="0.95"/>
<line x1="499.60" y1="26.60" x2="501.90" y2="32.70" stroke="#161616" stroke-width="0.95"/>
<line x1="501.90" y1="32.70" x2="507.80" y2="33.10" stroke="#161616" stroke-width="0.95"/>
<line x1="507.80" y1="33.10" x2="510.60" y2="27.20" stroke="#161616" stroke-width="0.95"/>
<line x1="501.96" y1="31.80" x2="507.86" y2="32.20" stroke="#161616" stroke-width="0.75"/>
<line x1="501.90" y1="32.70" x2="502.50" y2="36.10" stroke="#161616" stroke-width="0.95"/>
<line x1="507.80" y1="33.10" x2="509.40" y2="36.50" stroke="#161616" stroke-width="0.95"/>
<text x="510.60" y="28.86" font-size="4.6" text-anchor="middle" fill="#fff" stroke="#fff" stroke-width="1.8" stroke-linejoin="round">S</text>
<text class="m" x="510.60" y="28.86" font-size="4.6" text-anchor="middle" fill="#111">S</text>
<text x="503.00" y="42.10" font-size="4.7" text-anchor="middle" fill="#fff" stroke="#fff" stroke-width="1.8" stroke-linejoin="round">CN</text>
<text class="m" x="503.00" y="42.10" font-size="4.7" text-anchor="middle" fill="#111">CN</text>
<text x="510.20" y="42.10" font-size="4.7" text-anchor="start" fill="#fff" stroke="#fff" stroke-width="1.8" stroke-linejoin="round">NH<tspan font-size="3.3" dy="0.9">2</tspan></text>
<text class="m" x="510.20" y="42.10" font-size="4.7" text-anchor="start" fill="#111">NH<tspan font-size="3.3" dy="0.9">2</tspan></text>
<line x1="471.30" y1="36.70" x2="470.80" y2="44.20" stroke="#161616" stroke-width="0.95"/>
<line x1="470.80" y1="44.20" x2="464.80" y2="46.90" stroke="#161616" stroke-width="0.95"/>
<line x1="464.80" y1="46.90" x2="464.80" y2="53.50" stroke="#161616" stroke-width="0.95"/>
<line x1="464.80" y1="53.50" x2="471.00" y2="56.50" stroke="#161616" stroke-width="0.95"/>
<line x1="471.00" y1="56.50" x2="477.10" y2="53.50" stroke="#161616" stroke-width="0.95"/>
<line x1="477.10" y1="53.50" x2="477.10" y2="46.90" stroke="#161616" stroke-width="0.95"/>
<line x1="477.10" y1="46.90" x2="470.80" y2="44.20" stroke="#161616" stroke-width="0.95"/>
<line x1="471.00" y1="56.50" x2="471.00" y2="62.90" stroke="#161616" stroke-width="0.95"/>
<line x1="471.00" y1="62.90" x2="465.00" y2="66.50" stroke="#161616" stroke-width="0.95"/>
<line x1="470.54" y1="62.13" x2="464.54" y2="65.73" stroke="#161616" stroke-width="0.75"/>
<line x1="471.00" y1="62.90" x2="477.00" y2="66.40" stroke="#161616" stroke-width="0.95"/>
<line x1="477.00" y1="66.40" x2="482.40" y2="62.70" stroke="#161616" stroke-width="0.95"/>
<line x1="476.49" y1="65.66" x2="481.89" y2="61.96" stroke="#161616" stroke-width="0.75"/>
<text x="465.00" y="68.16" font-size="4.6" text-anchor="middle" fill="#fff" stroke="#fff" stroke-width="1.8" stroke-linejoin="round">O</text>
<text class="m" x="465.00" y="68.16" font-size="4.6" text-anchor="middle" fill="#111">O</text>
<polygon points="464.80,46.90 459.63,43.31 459.17,44.09" fill="#2a2a2a"/>
<polygon points="477.10,53.50 481.96,57.14 482.84,55.46" fill="#2a2a2a"/>
<text x="441.50" y="21.91" font-size="4.2" text-anchor="middle" fill="#fff" stroke="#fff" stroke-width="1.8" stroke-linejoin="round">N</text>
<text class="m" x="441.50" y="21.91" font-size="4.2" text-anchor="middle" fill="#111">N</text>
<text x="459.80" y="24.56" font-size="4.6" text-anchor="middle" fill="#fff" stroke="#fff" stroke-width="1.8" stroke-linejoin="round">O</text>
<text class="m" x="459.80" y="24.56" font-size="4.6" text-anchor="middle" fill="#111">O</text>
<text x="471.30" y="24.46" font-size="4.6" text-anchor="middle" fill="#fff" stroke="#fff" stroke-width="1.8" stroke-linejoin="round">N</text>
<text class="m" x="471.30" y="24.46" font-size="4.6" text-anchor="middle" fill="#111">N</text>
<text x="465.60" y="34.96" font-size="4.6" text-anchor="middle" fill="#fff" stroke="#fff" stroke-width="1.8" stroke-linejoin="round">N</text>
<text class="m" x="465.60" y="34.96" font-size="4.6" text-anchor="middle" fill="#111">N</text>
<text x="470.80" y="45.86" font-size="4.6" text-anchor="middle" fill="#fff" stroke="#fff" stroke-width="1.8" stroke-linejoin="round">N</text>
<text class="m" x="470.80" y="45.86" font-size="4.6" text-anchor="middle" fill="#111">N</text>
<text x="471.00" y="58.16" font-size="4.6" text-anchor="middle" fill="#fff" stroke="#fff" stroke-width="1.8" stroke-linejoin="round">N</text>
<text class="m" x="471.00" y="58.16" font-size="4.6" text-anchor="middle" fill="#111">N</text>
<text x="436.60" y="38.56" font-size="4.6" text-anchor="middle" fill="#fff" stroke="#fff" stroke-width="1.8" stroke-linejoin="round">F</text>
<text class="m" x="436.60" y="38.56" font-size="4.6" text-anchor="middle" fill="#111">F</text>
<rect x="0" y="75.6" width="135.4" height="29.4" fill="#e4e5e7"/>
<text class="g" x="68" y="83.5" font-size="7.6" text-anchor="middle" font-weight="bold" fill="#1a1a1a">Compound 1</text>
<text class="g" x="1.4" y="92.8" font-size="7.0" fill="#1a1a1a">SPR: KRAS<tspan font-size="4.0" dy="-2.7" style="stroke-width:0.05px" fill="#333">G12D</tspan><tspan dy="2.7"> GppNHpKD (µmol/L): 0.52</tspan></text>
<text class="g" x="5.4" y="101.8" font-size="7.0" fill="#1a1a1a">PPI: KRAS<tspan font-size="4.0" dy="-2.7" style="stroke-width:0.05px" fill="#333">G12D</tspan><tspan dy="2.7">/RAF1 (µmol/L):</tspan></text>
<text class="g" x="132.0" y="101.8" font-size="7.0" text-anchor="end" font-weight="normal" fill="#1a1a1a">1.4</text>
<rect x="148.1" y="86.25" width="52.8" height="13.75" fill="#e4e5e7"/>
<text class="g" x="174.5" y="95.2" font-size="7.55" text-anchor="middle" font-weight="bold" fill="#1a1a1a">Compound 2</text>
<rect x="305" y="86.25" width="52.9" height="13.75" fill="#e4e5e7"/>
<text class="g" x="331.45" y="95.2" font-size="7.55" text-anchor="middle" font-weight="bold" fill="#1a1a1a">Compound 3</text>
<rect x="455.4" y="86.25" width="43.1" height="13.75" fill="#e4e5e7"/>
<text class="g" x="476.95" y="95.2" font-size="7.55" text-anchor="middle" font-weight="bold" fill="#1a1a1a">BBO-8520</text>
<text x="1.1" y="129.8" font-size="11" font-weight="bold" fill="#111" stroke="#111" stroke-width="0.25">B</text>
<text x="361.3" y="130.1" font-size="11" font-weight="bold" fill="#111" stroke="#111" stroke-width="0.25">C</text>
<line x1="110.9" y1="144.0" x2="355.7" y2="144.0" stroke="#000" stroke-opacity="0.5" stroke-width="1.15"/>
<line x1="14.5" y1="157.8" x2="355.7" y2="157.8" stroke="#000" stroke-opacity="0.5" stroke-width="1.3"/>
<line x1="14.5" y1="167.1" x2="355.7" y2="167.1" stroke="#000" stroke-opacity="0.5" stroke-width="1.15"/>
<line x1="14.5" y1="176.3" x2="355.7" y2="176.3" stroke="#000" stroke-opacity="0.5" stroke-width="1.15"/>
<line x1="14.5" y1="185.4" x2="355.7" y2="185.4" stroke="#000" stroke-opacity="0.5" stroke-width="1.15"/>
<line x1="14.5" y1="194.5" x2="355.7" y2="194.5" stroke="#000" stroke-opacity="0.5" stroke-width="1.15"/>
<line x1="110.9" y1="130.7" x2="110.9" y2="203.6" stroke="#000" stroke-opacity="0.5" stroke-width="1.25"/>
<line x1="256.1" y1="130.7" x2="256.1" y2="203.6" stroke="#000" stroke-opacity="0.5" stroke-width="1.2"/>
<line x1="159.0" y1="144.0" x2="159.0" y2="203.6" stroke="#000" stroke-opacity="0.5" stroke-width="1.15"/>
<line x1="207.4" y1="144.0" x2="207.4" y2="203.6" stroke="#000" stroke-opacity="0.5" stroke-width="1.15"/>
<line x1="302.6" y1="144.0" x2="302.6" y2="203.6" stroke="#000" stroke-opacity="0.5" stroke-width="1.15"/>
<rect x="14.5" y="130.7" width="341.2" height="72.9" fill="none" stroke="#555" stroke-width="1.0"/>
<text class="g" x="62.5" y="147.3" font-size="7.7" text-anchor="middle" font-weight="normal" fill="#1a1a1a">Compounds</text>
<text class="g" x="112.7" y="139.4" font-size="7.3" text-anchor="start" font-weight="normal" fill="#1a1a1a">MALDI-TOF MS % modification, 15 minutes</text>
<text class="g" x="257.7" y="139.4" font-size="7.3" fill="#1a1a1a">PPI: KRAS<tspan font-size="4.2" dy="-2.6" style="stroke-width:0.05px" fill="#333">G12C</tspan><tspan dy="2.6">/RAF1 (µmol/L)</tspan></text>
<text class="g" x="135.54999999999998" y="153.6" font-size="7.4" text-anchor="middle" font-weight="normal" fill="#1a1a1a">GDP</text>
<text class="g" x="183.79999999999998" y="153.6" font-size="7.4" text-anchor="middle" font-weight="normal" fill="#1a1a1a">GppNHp</text>
<text class="g" x="232.35" y="153.6" font-size="7.4" text-anchor="middle" font-weight="normal" fill="#1a1a1a">GTP</text>
<text class="g" x="279.95000000000005" y="153.6" font-size="7.4" text-anchor="middle" font-weight="normal" fill="#1a1a1a">GppNHp</text>
<text class="g" x="329.75" y="153.6" font-size="7.4" text-anchor="middle" font-weight="normal" fill="#1a1a1a">GTP</text>
<text class="g" x="62.7" y="165.20000000000002" font-size="7.4" text-anchor="middle" font-weight="normal" fill="#1a1a1a">Compound 2</text>
<text class="g" x="135.75" y="165.20000000000002" font-size="7.4" text-anchor="middle" font-weight="normal" fill="#1a1a1a">80</text>
<text class="g" x="184.0" y="165.20000000000002" font-size="7.4" text-anchor="middle" font-weight="normal" fill="#1a1a1a">50</text>
<text class="g" x="232.55" y="165.20000000000002" font-size="7.4" text-anchor="middle" font-weight="normal" fill="#1a1a1a">NA</text>
<text class="g" x="280.15000000000003" y="165.20000000000002" font-size="7.4" text-anchor="middle" font-weight="normal" fill="#1a1a1a">0.14</text>
<text class="g" x="329.95" y="165.20000000000002" font-size="7.4" text-anchor="middle" font-weight="normal" fill="#1a1a1a">NA</text>
<text class="g" x="62.7" y="174.5" font-size="7.4" text-anchor="middle" font-weight="normal" fill="#1a1a1a">Compound 3</text>
<text class="g" x="135.75" y="174.5" font-size="7.4" text-anchor="middle" font-weight="normal" fill="#1a1a1a">93</text>
<text class="g" x="184.0" y="174.5" font-size="7.4" text-anchor="middle" font-weight="normal" fill="#1a1a1a">97</text>
<text class="g" x="232.55" y="174.5" font-size="7.4" text-anchor="middle" font-weight="normal" fill="#1a1a1a">38</text>
<text class="g" x="280.15000000000003" y="174.5" font-size="7.4" text-anchor="middle" font-weight="normal" fill="#1a1a1a">0.12</text>
<text class="g" x="329.95" y="174.5" font-size="7.4" text-anchor="middle" font-weight="normal" fill="#1a1a1a">3.19</text>
<text class="g" x="62.7" y="183.70000000000002" font-size="7.4" text-anchor="middle" font-weight="normal" fill="#1a1a1a">BBO-8520</text>
<text class="g" x="135.75" y="183.70000000000002" font-size="7.4" text-anchor="middle" font-weight="normal" fill="#1a1a1a">100</text>
<text class="g" x="184.0" y="183.70000000000002" font-size="7.4" text-anchor="middle" font-weight="normal" fill="#1a1a1a">100</text>
<text class="g" x="232.55" y="183.70000000000002" font-size="7.4" text-anchor="middle" font-weight="normal" fill="#1a1a1a">89</text>
<text class="g" x="280.15000000000003" y="183.70000000000002" font-size="7.4" text-anchor="middle" font-weight="normal" fill="#1a1a1a">0.026</text>
<text class="g" x="329.95" y="183.70000000000002" font-size="7.4" text-anchor="middle" font-weight="normal" fill="#1a1a1a">0.10</text>
<text class="g" x="62.7" y="192.8" font-size="7.4" text-anchor="middle" font-weight="normal" fill="#1a1a1a">Sotorasib</text>
<text class="g" x="135.75" y="192.8" font-size="7.4" text-anchor="middle" font-weight="normal" fill="#1a1a1a">88</text>
<text class="g" x="184.0" y="192.8" font-size="7.4" text-anchor="middle" font-weight="normal" fill="#1a1a1a">0</text>
<text class="g" x="232.55" y="192.8" font-size="7.4" text-anchor="middle" font-weight="normal" fill="#1a1a1a">3</text>
<text class="g" x="280.15000000000003" y="192.8" font-size="7.4" text-anchor="middle" font-weight="normal" fill="#1a1a1a">&gt;30</text>
<text class="g" x="329.95" y="192.8" font-size="7.4" text-anchor="middle" font-weight="normal" fill="#1a1a1a">&gt;30</text>
<text class="g" x="62.7" y="201.9" font-size="7.4" text-anchor="middle" font-weight="normal" fill="#1a1a1a">Adagrasib</text>
<text class="g" x="135.75" y="201.9" font-size="7.4" text-anchor="middle" font-weight="normal" fill="#1a1a1a">82</text>
<text class="g" x="184.0" y="201.9" font-size="7.4" text-anchor="middle" font-weight="normal" fill="#1a1a1a">0</text>
<text class="g" x="232.55" y="201.9" font-size="7.4" text-anchor="middle" font-weight="normal" fill="#1a1a1a">1</text>
<text class="g" x="280.15000000000003" y="201.9" font-size="7.4" text-anchor="middle" font-weight="normal" fill="#1a1a1a">&gt;30</text>
<text class="g" x="329.95" y="201.9" font-size="7.4" text-anchor="middle" font-weight="normal" fill="#1a1a1a">&gt;30</text>
<line x1="432.85" y1="158.0" x2="518.35" y2="158.0" stroke="#000" stroke-opacity="0.5" stroke-width="1.15"/>
<line x1="433.3" y1="167.2" x2="517.9" y2="167.2" stroke="#000" stroke-opacity="0.5" stroke-width="1.15"/>
<line x1="361.65000000000003" y1="176.3" x2="518.35" y2="176.3" stroke="#000" stroke-opacity="0.5" stroke-width="1.15"/>
<line x1="391.6" y1="185.5" x2="517.9" y2="185.5" stroke="#000" stroke-opacity="0.5" stroke-width="1.15"/>
<line x1="391.6" y1="194.7" x2="517.9" y2="194.7" stroke="#000" stroke-opacity="0.5" stroke-width="1.15"/>
<line x1="361.65000000000003" y1="203.3" x2="518.35" y2="203.3" stroke="#000" stroke-opacity="0.5" stroke-width="1.15"/>
<line x1="433.3" y1="158.0" x2="433.3" y2="203.3" stroke="#000" stroke-opacity="0.5" stroke-width="1.15"/>
<line x1="517.9" y1="158.0" x2="517.9" y2="203.3" stroke="#000" stroke-opacity="0.5" stroke-width="1.15"/>
<line x1="362.1" y1="176.3" x2="362.1" y2="203.3" stroke="#000" stroke-opacity="0.5" stroke-width="1.15"/>
<line x1="391.6" y1="176.3" x2="391.6" y2="203.3" stroke="#000" stroke-opacity="0.5" stroke-width="1.15"/>
<line x1="475.8" y1="167.2" x2="475.8" y2="203.3" stroke="#000" stroke-opacity="0.5" stroke-width="1.15"/>
<text class="g" x="475.8" y="165.0" font-size="7.3" font-weight="bold" text-anchor="middle" fill="#1a1a1a">Kinact/KI (M<tspan font-size="4.0" dy="-2.6">−1</tspan><tspan dy="2.6">s</tspan><tspan font-size="4.0" dy="-2.6">−1</tspan><tspan dy="2.6">)</tspan></text>
<text class="g" x="454.5" y="174.3" font-size="7.4" text-anchor="middle" font-weight="bold" fill="#1a1a1a">GDP</text>
<text class="g" x="496.8" y="174.3" font-size="7.4" text-anchor="middle" font-weight="bold" fill="#1a1a1a">GTP</text>
<text class="g" x="376.6" y="186.9" font-size="7.6" text-anchor="middle" font-weight="normal" fill="#1a1a1a">Mass</text>
<text class="g" x="376.6" y="195.9" font-size="7.6" text-anchor="middle" font-weight="normal" fill="#1a1a1a">spec</text>
<text class="g" x="412.45000000000005" y="183.25" font-size="7.55" text-anchor="middle" font-weight="normal" fill="#1a1a1a">Sotorasib</text>
<text class="g" x="454.55" y="183.25" font-size="7.55" text-anchor="middle" font-weight="normal" fill="#1a1a1a">11,000</text>
<text class="g" x="496.85" y="183.25" font-size="7.55" text-anchor="middle" font-weight="normal" fill="#1a1a1a">0</text>
<text class="g" x="412.45000000000005" y="192.45" font-size="7.55" text-anchor="middle" font-weight="normal" fill="#1a1a1a">Adagrasib</text>
<text class="g" x="454.55" y="192.45" font-size="7.55" text-anchor="middle" font-weight="normal" fill="#1a1a1a">180,000</text>
<text class="g" x="496.85" y="192.45" font-size="7.55" text-anchor="middle" font-weight="normal" fill="#1a1a1a">0</text>
<text class="g" x="412.45000000000005" y="201.64999999999998" font-size="7.55" text-anchor="middle" font-weight="normal" fill="#1a1a1a">BBO-8520</text>
<text class="g" x="454.55" y="201.64999999999998" font-size="7.55" text-anchor="middle" font-weight="normal" fill="#1a1a1a">2,743,000</text>
<text class="g" x="496.85" y="201.64999999999998" font-size="7.55" text-anchor="middle" font-weight="normal" fill="#1a1a1a">20,000</text>
<line x1="28.5" y1="222.2" x2="28.5" y2="313.3" stroke="#333" stroke-width="0.85"/>
<line x1="28.1" y1="313.3" x2="164.50000000000003" y2="313.3" stroke="#333" stroke-width="0.85"/>
<line x1="24.9" y1="313.3" x2="28.5" y2="313.3" stroke="#333" stroke-width="0.85"/>
<text class="g" x="24.3" y="315.90000000000003" font-size="7.3" text-anchor="end" font-weight="normal" fill="#1a1a1a">0</text>
<line x1="24.9" y1="283.06666666666666" x2="28.5" y2="283.06666666666666" stroke="#333" stroke-width="0.85"/>
<text class="g" x="24.3" y="285.6666666666667" font-size="7.3" text-anchor="end" font-weight="normal" fill="#1a1a1a">50</text>
<line x1="24.9" y1="252.83333333333331" x2="28.5" y2="252.83333333333331" stroke="#333" stroke-width="0.85"/>
<text class="g" x="24.3" y="255.4333333333333" font-size="7.3" text-anchor="end" font-weight="normal" fill="#1a1a1a">100</text>
<line x1="24.9" y1="222.6" x2="28.5" y2="222.6" stroke="#333" stroke-width="0.85"/>
<text class="g" x="24.3" y="225.2" font-size="7.3" text-anchor="end" font-weight="normal" fill="#1a1a1a">150</text>
<line x1="28.5" y1="313.3" x2="28.5" y2="316.5" stroke="#333" stroke-width="0.85"/>
<text class="g" x="25.9" y="324.5" font-size="7.3" text-anchor="middle" font-weight="normal" fill="#1a1a1a">0.0001</text>
<line x1="51.1" y1="313.3" x2="51.1" y2="316.5" stroke="#333" stroke-width="0.85"/>
<text class="g" x="51.1" y="324.5" font-size="7.3" text-anchor="middle" font-weight="normal" fill="#1a1a1a">0.001</text>
<line x1="73.7" y1="313.3" x2="73.7" y2="316.5" stroke="#333" stroke-width="0.85"/>
<text class="g" x="73.7" y="324.5" font-size="7.3" text-anchor="middle" font-weight="normal" fill="#1a1a1a">0.01</text>
<line x1="96.30000000000001" y1="313.3" x2="96.30000000000001" y2="316.5" stroke="#333" stroke-width="0.85"/>
<text class="g" x="96.30000000000001" y="324.5" font-size="7.3" text-anchor="middle" font-weight="normal" fill="#1a1a1a">0.1</text>
<line x1="118.9" y1="313.3" x2="118.9" y2="316.5" stroke="#333" stroke-width="0.85"/>
<text class="g" x="118.9" y="324.5" font-size="7.3" text-anchor="middle" font-weight="normal" fill="#1a1a1a">1</text>
<line x1="141.5" y1="313.3" x2="141.5" y2="316.5" stroke="#333" stroke-width="0.85"/>
<text class="g" x="141.5" y="324.5" font-size="7.3" text-anchor="middle" font-weight="normal" fill="#1a1a1a">10</text>
<line x1="164.10000000000002" y1="313.3" x2="164.10000000000002" y2="316.5" stroke="#333" stroke-width="0.85"/>
<text class="g" x="164.10000000000002" y="324.5" font-size="7.3" text-anchor="middle" font-weight="normal" fill="#1a1a1a">100</text>
<text class="g" x="105.3" y="336.0" font-size="7.45" text-anchor="middle" font-weight="bold" fill="#1a1a1a">Sotorasib (log µmol/L)</text>
<text class="g" transform="translate(7.300000000000001,266.4) rotate(-90)" x="0" y="0" font-size="7.3" font-weight="bold" text-anchor="middle" fill="#1a1a1a">% Activity</text>
<polyline points="51.10,252.83 52.36,252.79 53.63,252.74 54.89,252.70 56.16,252.65 57.42,252.61 58.69,252.56 59.95,252.52 61.22,252.47 62.48,252.43 63.75,252.38 65.01,252.34 66.28,252.29 67.54,252.25 68.81,252.20 70.07,252.16 71.34,252.11 72.60,252.07 73.87,252.02 75.13,251.98 76.40,251.93 77.66,251.89 78.93,251.84 80.19,251.80 81.45,251.75 82.72,251.71 83.98,251.66 85.25,251.62 86.51,251.57 87.78,251.52 89.04,251.48 90.31,251.43 91.57,251.39 92.84,251.34 94.10,251.30 95.37,251.25 96.63,251.21 97.90,251.16 99.16,251.12 100.43,251.07 101.69,251.03 102.96,250.98 104.22,250.94 105.49,250.89 106.75,250.85 108.02,250.80 109.28,250.76 110.54,250.71 111.81,250.67 113.07,250.62 114.34,250.58 115.60,250.53 116.87,250.49 118.13,250.44 119.40,250.40 120.66,250.35 121.93,250.31 123.19,250.26 124.46,250.22 125.72,250.17 126.99,250.13 128.25,250.08 129.52,250.04 130.78,249.99 132.05,249.95 133.31,249.90 134.58,249.86 135.84,249.81 137.11,249.77 138.37,249.72 139.64,249.67 140.90,249.63 142.16,249.58 143.43,249.54 144.69,249.49 145.96,249.45 147.22,249.40 148.49,249.36 149.75,249.31 151.02,249.27 152.28,249.22" fill="none" stroke="#8b3da8" stroke-width="1.0"/>
<polyline points="51.10,252.65 52.36,252.63 53.63,252.61 54.89,252.59 56.16,252.57 57.42,252.55 58.69,252.53 59.95,252.52 61.22,252.50 62.48,252.48 63.75,252.46 65.01,252.44 66.28,252.42 67.54,252.40 68.81,252.38 70.07,252.36 71.34,252.34 72.60,252.32 73.87,252.30 75.13,252.28 76.40,252.26 77.66,252.24 78.93,252.22 80.19,252.20 81.45,252.18 82.72,252.16 83.98,252.14 85.25,252.12 86.51,252.10 87.78,252.08 89.04,252.07 90.31,252.05 91.57,252.03 92.84,252.01 94.10,251.99 95.37,251.97 96.63,251.95 97.90,251.93 99.16,251.91 100.43,251.89 101.69,251.87 102.96,251.85 104.22,251.83 105.49,251.81 106.75,251.79 108.02,251.77 109.28,251.75 110.54,251.73 111.81,251.71 113.07,251.69 114.34,251.67 115.60,251.65 116.87,251.64 118.13,251.62 119.40,251.60 120.66,251.58 121.93,251.56 123.19,251.54 124.46,251.52 125.72,251.50 126.99,251.48 128.25,251.46 129.52,251.44 130.78,251.42 132.05,251.40 133.31,251.38 134.58,251.36 135.84,251.34 137.11,251.32 138.37,251.30 139.64,251.28 140.90,251.26 142.16,251.24 143.43,251.22 144.69,251.21 145.96,251.19 147.22,251.17 148.49,251.15 149.75,251.13 151.02,251.11 152.28,251.09" fill="none" stroke="#137533" stroke-width="1.0"/>
<circle cx="51.10" cy="252.53" r="1.8" fill="#8b3da8"/>
<circle cx="66.01" cy="252.23" r="1.8" fill="#8b3da8"/>
<circle cx="76.79" cy="254.95" r="1.8" fill="#8b3da8"/>
<circle cx="87.60" cy="251.32" r="1.8" fill="#8b3da8"/>
<circle cx="98.33" cy="251.02" r="1.8" fill="#8b3da8"/>
<circle cx="109.14" cy="250.41" r="1.8" fill="#8b3da8"/>
<circle cx="119.92" cy="249.81" r="1.8" fill="#8b3da8"/>
<circle cx="130.71" cy="249.81" r="1.8" fill="#8b3da8"/>
<circle cx="141.50" cy="249.21" r="1.8" fill="#8b3da8"/>
<circle cx="152.28" cy="249.21" r="1.8" fill="#8b3da8"/>
<rect x="49.10" y="251.01" width="4.0" height="4.0" fill="#137533"/>
<rect x="64.01" y="249.99" width="4.0" height="4.0" fill="#137533"/>
<rect x="74.79" y="250.11" width="4.0" height="4.0" fill="#137533"/>
<rect x="85.60" y="249.32" width="4.0" height="4.0" fill="#137533"/>
<rect x="96.33" y="249.32" width="4.0" height="4.0" fill="#137533"/>
<rect x="107.14" y="248.72" width="4.0" height="4.0" fill="#137533"/>
<rect x="117.92" y="248.11" width="4.0" height="4.0" fill="#137533"/>
<rect x="128.71" y="249.02" width="4.0" height="4.0" fill="#137533"/>
<rect x="139.50" y="249.50" width="4.0" height="4.0" fill="#137533"/>
<rect x="150.28" y="251.20" width="4.0" height="4.0" fill="#137533"/>
<line x1="204.8" y1="222.2" x2="204.8" y2="313.3" stroke="#333" stroke-width="0.85"/>
<line x1="204.4" y1="313.3" x2="340.8" y2="313.3" stroke="#333" stroke-width="0.85"/>
<line x1="201.20000000000002" y1="313.3" x2="204.8" y2="313.3" stroke="#333" stroke-width="0.85"/>
<text class="g" x="200.60000000000002" y="315.90000000000003" font-size="7.3" text-anchor="end" font-weight="normal" fill="#1a1a1a">0</text>
<line x1="201.20000000000002" y1="283.06666666666666" x2="204.8" y2="283.06666666666666" stroke="#333" stroke-width="0.85"/>
<text class="g" x="200.60000000000002" y="285.6666666666667" font-size="7.3" text-anchor="end" font-weight="normal" fill="#1a1a1a">50</text>
<line x1="201.20000000000002" y1="252.83333333333331" x2="204.8" y2="252.83333333333331" stroke="#333" stroke-width="0.85"/>
<text class="g" x="200.60000000000002" y="255.4333333333333" font-size="7.3" text-anchor="end" font-weight="normal" fill="#1a1a1a">100</text>
<line x1="201.20000000000002" y1="222.6" x2="204.8" y2="222.6" stroke="#333" stroke-width="0.85"/>
<text class="g" x="200.60000000000002" y="225.2" font-size="7.3" text-anchor="end" font-weight="normal" fill="#1a1a1a">150</text>
<line x1="204.8" y1="313.3" x2="204.8" y2="316.5" stroke="#333" stroke-width="0.85"/>
<text class="g" x="202.20000000000002" y="324.5" font-size="7.3" text-anchor="middle" font-weight="normal" fill="#1a1a1a">0.0001</text>
<line x1="227.4" y1="313.3" x2="227.4" y2="316.5" stroke="#333" stroke-width="0.85"/>
<text class="g" x="227.4" y="324.5" font-size="7.3" text-anchor="middle" font-weight="normal" fill="#1a1a1a">0.001</text>
<line x1="250.0" y1="313.3" x2="250.0" y2="316.5" stroke="#333" stroke-width="0.85"/>
<text class="g" x="250.0" y="324.5" font-size="7.3" text-anchor="middle" font-weight="normal" fill="#1a1a1a">0.01</text>
<line x1="272.6" y1="313.3" x2="272.6" y2="316.5" stroke="#333" stroke-width="0.85"/>
<text class="g" x="272.6" y="324.5" font-size="7.3" text-anchor="middle" font-weight="normal" fill="#1a1a1a">0.1</text>
<line x1="295.20000000000005" y1="313.3" x2="295.20000000000005" y2="316.5" stroke="#333" stroke-width="0.85"/>
<text class="g" x="295.20000000000005" y="324.5" font-size="7.3" text-anchor="middle" font-weight="normal" fill="#1a1a1a">1</text>
<line x1="317.8" y1="313.3" x2="317.8" y2="316.5" stroke="#333" stroke-width="0.85"/>
<text class="g" x="317.8" y="324.5" font-size="7.3" text-anchor="middle" font-weight="normal" fill="#1a1a1a">10</text>
<line x1="340.40000000000003" y1="313.3" x2="340.40000000000003" y2="316.5" stroke="#333" stroke-width="0.85"/>
<text class="g" x="340.40000000000003" y="324.5" font-size="7.3" text-anchor="middle" font-weight="normal" fill="#1a1a1a">100</text>
<text class="g" x="280.0" y="336.0" font-size="7.45" text-anchor="middle" font-weight="bold" fill="#1a1a1a">Adagrasib (log µmol/L)</text>
<text class="g" transform="translate(183.60000000000002,266.4) rotate(-90)" x="0" y="0" font-size="7.3" font-weight="bold" text-anchor="middle" fill="#1a1a1a">% Activity</text>
<polyline points="227.40,251.44 228.66,251.44 229.93,251.44 231.19,251.44 232.46,251.44 233.72,251.44 234.99,251.44 236.25,251.44 237.52,251.44 238.78,251.44 240.05,251.44 241.31,251.44 242.58,251.44 243.84,251.44 245.11,251.44 246.37,251.44 247.64,251.44 248.90,251.44 250.17,251.44 251.43,251.43 252.70,251.43 253.96,251.43 255.23,251.43 256.49,251.43 257.75,251.43 259.02,251.42 260.28,251.42 261.55,251.42 262.81,251.41 264.08,251.41 265.34,251.40 266.61,251.39 267.87,251.38 269.14,251.37 270.40,251.36 271.67,251.35 272.93,251.33 274.20,251.32 275.46,251.29 276.73,251.27 277.99,251.24 279.26,251.21 280.52,251.17 281.79,251.12 283.05,251.07 284.32,251.01 285.58,250.94 286.84,250.86 288.11,250.76 289.37,250.65 290.64,250.52 291.90,250.37 293.17,250.20 294.43,250.01 295.70,249.78 296.96,249.52 298.23,249.23 299.49,248.90 300.76,248.52 302.02,248.09 303.29,247.61 304.55,247.08 305.82,246.48 307.08,245.83 308.35,245.12 309.61,244.34 310.88,243.51 312.14,242.63 313.41,241.70 314.67,240.73 315.94,239.73 317.20,238.72 318.46,237.69 319.73,236.68 320.99,235.68 322.26,234.72 323.52,233.79 324.79,232.91 326.05,232.08 327.32,231.31 328.58,230.60" fill="none" stroke="#8b3da8" stroke-width="1.0"/>
<polyline points="227.40,252.11 228.66,252.11 229.93,252.11 231.19,252.11 232.46,252.11 233.72,252.11 234.99,252.11 236.25,252.11 237.52,252.11 238.78,252.11 240.05,252.11 241.31,252.11 242.58,252.11 243.84,252.11 245.11,252.11 246.37,252.11 247.64,252.11 248.90,252.11 250.17,252.11 251.43,252.11 252.70,252.11 253.96,252.11 255.23,252.11 256.49,252.11 257.75,252.11 259.02,252.11 260.28,252.11 261.55,252.11 262.81,252.11 264.08,252.11 265.34,252.11 266.61,252.11 267.87,252.11 269.14,252.11 270.40,252.11 271.67,252.11 272.93,252.11 274.20,252.11 275.46,252.11 276.73,252.11 277.99,252.11 279.26,252.11 280.52,252.11 281.79,252.11 283.05,252.11 284.32,252.11 285.58,252.11 286.84,252.11 288.11,252.11 289.37,252.11 290.64,252.11 291.90,252.11 293.17,252.11 294.43,252.11 295.70,252.11 296.96,252.11 298.23,252.11 299.49,252.11 300.76,252.11 302.02,252.11 303.29,252.11 304.55,252.11 305.82,252.11 307.08,252.11 308.35,252.11 309.61,252.11 310.88,252.11 312.14,252.11 313.41,252.11 314.67,252.11 315.94,252.11 317.20,252.11 318.46,252.11 319.73,252.11 320.99,252.11 322.26,252.11 323.52,252.11 324.79,252.11 326.05,252.11 327.32,252.11 328.58,252.11" fill="none" stroke="#137533" stroke-width="1.0"/>
<circle cx="227.40" cy="252.83" r="1.8" fill="#8b3da8"/>
<circle cx="242.31" cy="252.23" r="1.8" fill="#8b3da8"/>
<circle cx="253.09" cy="252.53" r="1.8" fill="#8b3da8"/>
<circle cx="263.90" cy="251.93" r="1.8" fill="#8b3da8"/>
<circle cx="274.63" cy="251.93" r="1.8" fill="#8b3da8"/>
<circle cx="285.44" cy="248.84" r="1.8" fill="#8b3da8"/>
<circle cx="296.22" cy="248.00" r="1.8" fill="#8b3da8"/>
<circle cx="307.01" cy="244.49" r="1.8" fill="#8b3da8"/>
<circle cx="317.80" cy="239.53" r="1.8" fill="#8b3da8"/>
<circle cx="328.58" cy="230.64" r="1.8" fill="#8b3da8"/>
<line x1="328.58" y1="249.51" x2="328.58" y2="256.16" stroke="#137533" stroke-width="0.7"/>
<rect x="225.40" y="251.14" width="4.0" height="4.0" fill="#137533"/>
<rect x="240.31" y="249.93" width="4.0" height="4.0" fill="#137533"/>
<rect x="251.09" y="250.77" width="4.0" height="4.0" fill="#137533"/>
<rect x="261.90" y="249.93" width="4.0" height="4.0" fill="#137533"/>
<rect x="272.63" y="249.32" width="4.0" height="4.0" fill="#137533"/>
<rect x="283.44" y="249.02" width="4.0" height="4.0" fill="#137533"/>
<rect x="294.22" y="249.02" width="4.0" height="4.0" fill="#137533"/>
<rect x="305.01" y="249.62" width="4.0" height="4.0" fill="#137533"/>
<rect x="315.80" y="249.62" width="4.0" height="4.0" fill="#137533"/>
<rect x="326.58" y="250.53" width="4.0" height="4.0" fill="#137533"/>
<line x1="377.4" y1="222.2" x2="377.4" y2="313.3" stroke="#333" stroke-width="0.85"/>
<line x1="377.0" y1="313.3" x2="513.4" y2="313.3" stroke="#333" stroke-width="0.85"/>
<line x1="373.79999999999995" y1="313.3" x2="377.4" y2="313.3" stroke="#333" stroke-width="0.85"/>
<text class="g" x="373.2" y="315.90000000000003" font-size="7.3" text-anchor="end" font-weight="normal" fill="#1a1a1a">0</text>
<line x1="373.79999999999995" y1="283.06666666666666" x2="377.4" y2="283.06666666666666" stroke="#333" stroke-width="0.85"/>
<text class="g" x="373.2" y="285.6666666666667" font-size="7.3" text-anchor="end" font-weight="normal" fill="#1a1a1a">50</text>
<line x1="373.79999999999995" y1="252.83333333333331" x2="377.4" y2="252.83333333333331" stroke="#333" stroke-width="0.85"/>
<text class="g" x="373.2" y="255.4333333333333" font-size="7.3" text-anchor="end" font-weight="normal" fill="#1a1a1a">100</text>
<line x1="373.79999999999995" y1="222.6" x2="377.4" y2="222.6" stroke="#333" stroke-width="0.85"/>
<text class="g" x="373.2" y="225.2" font-size="7.3" text-anchor="end" font-weight="normal" fill="#1a1a1a">150</text>
<line x1="377.4" y1="313.3" x2="377.4" y2="316.5" stroke="#333" stroke-width="0.85"/>
<text class="g" x="374.79999999999995" y="324.5" font-size="7.3" text-anchor="middle" font-weight="normal" fill="#1a1a1a">0.0001</text>
<line x1="400.0" y1="313.3" x2="400.0" y2="316.5" stroke="#333" stroke-width="0.85"/>
<text class="g" x="400.0" y="324.5" font-size="7.3" text-anchor="middle" font-weight="normal" fill="#1a1a1a">0.001</text>
<line x1="422.59999999999997" y1="313.3" x2="422.59999999999997" y2="316.5" stroke="#333" stroke-width="0.85"/>
<text class="g" x="422.59999999999997" y="324.5" font-size="7.3" text-anchor="middle" font-weight="normal" fill="#1a1a1a">0.01</text>
<line x1="445.2" y1="313.3" x2="445.2" y2="316.5" stroke="#333" stroke-width="0.85"/>
<text class="g" x="445.2" y="324.5" font-size="7.3" text-anchor="middle" font-weight="normal" fill="#1a1a1a">0.1</text>
<line x1="467.79999999999995" y1="313.3" x2="467.79999999999995" y2="316.5" stroke="#333" stroke-width="0.85"/>
<text class="g" x="467.79999999999995" y="324.5" font-size="7.3" text-anchor="middle" font-weight="normal" fill="#1a1a1a">1</text>
<line x1="490.4" y1="313.3" x2="490.4" y2="316.5" stroke="#333" stroke-width="0.85"/>
<text class="g" x="490.4" y="324.5" font-size="7.3" text-anchor="middle" font-weight="normal" fill="#1a1a1a">10</text>
<line x1="513.0" y1="313.3" x2="513.0" y2="316.5" stroke="#333" stroke-width="0.85"/>
<text class="g" x="513.0" y="324.5" font-size="7.3" text-anchor="middle" font-weight="normal" fill="#1a1a1a">100</text>
<text class="g" x="453.1" y="336.0" font-size="7.45" text-anchor="middle" font-weight="bold" fill="#1a1a1a">BBO-8520 (log µmol/L)</text>
<text class="g" transform="translate(356.2,266.4) rotate(-90)" x="0" y="0" font-size="7.3" font-weight="bold" text-anchor="middle" fill="#1a1a1a">% Activity</text>
<polyline points="400.00,252.32 401.26,252.33 402.53,252.36 403.79,252.38 405.06,252.42 406.32,252.46 407.59,252.51 408.85,252.56 410.12,252.64 411.38,252.72 412.65,252.83 413.91,252.95 415.18,253.10 416.44,253.28 417.71,253.50 418.97,253.77 420.24,254.08 421.50,254.46 422.77,254.91 424.03,255.45 425.30,256.08 426.56,256.83 427.83,257.70 429.09,258.72 430.35,259.89 431.62,261.24 432.88,262.76 434.15,264.45 435.41,266.33 436.68,268.37 437.94,270.56 439.21,272.87 440.47,275.25 441.74,277.68 443.00,280.10 444.27,282.47 445.53,284.75 446.80,286.90 448.06,288.91 449.33,290.74 450.59,292.40 451.86,293.87 453.12,295.17 454.39,296.31 455.65,297.29 456.92,298.13 458.18,298.85 459.44,299.46 460.71,299.97 461.97,300.40 463.24,300.76 464.50,301.07 465.77,301.32 467.03,301.53 468.30,301.70 469.56,301.85 470.83,301.97 472.09,302.07 473.36,302.15 474.62,302.22 475.89,302.27 477.15,302.32 478.42,302.36 479.68,302.39 480.95,302.41 482.21,302.44 483.48,302.45 484.74,302.47 486.01,302.48 487.27,302.49 488.54,302.50 489.80,302.51 491.06,302.51 492.33,302.52 493.59,302.52 494.86,302.52 496.12,302.52 497.39,302.53 498.65,302.53 499.92,302.53 501.18,302.53" fill="none" stroke="#8b3da8" stroke-width="1.0"/>
<polyline points="400.00,252.61 401.26,252.66 402.53,252.71 403.79,252.78 405.06,252.87 406.32,252.99 407.59,253.14 408.85,253.33 410.12,253.58 411.38,253.89 412.65,254.29 413.91,254.80 415.18,255.44 416.44,256.25 417.71,257.25 418.97,258.47 420.24,259.96 421.50,261.74 422.77,263.81 424.03,266.19 425.30,268.83 426.56,271.70 427.83,274.72 429.09,277.78 430.35,280.80 431.62,283.67 432.88,286.33 434.15,288.71 435.41,290.80 436.68,292.58 437.94,294.07 439.21,295.31 440.47,296.31 441.74,297.12 443.00,297.77 444.27,298.28 445.53,298.69 446.80,299.01 448.06,299.25 449.33,299.45 450.59,299.60 451.86,299.72 453.12,299.81 454.39,299.88 455.65,299.93 456.92,299.97 458.18,300.01 459.44,300.03 460.71,300.05 461.97,300.07 463.24,300.08 464.50,300.09 465.77,300.09 467.03,300.10 468.30,300.10 469.56,300.11 470.83,300.11 472.09,300.11 473.36,300.11 474.62,300.11 475.89,300.12 477.15,300.12 478.42,300.12 479.68,300.12 480.95,300.12 482.21,300.12 483.48,300.12 484.74,300.12 486.01,300.12 487.27,300.12 488.54,300.12 489.80,300.12 491.06,300.12 492.33,300.12 493.59,300.12 494.86,300.12 496.12,300.12 497.39,300.12 498.65,300.12 499.92,300.12 501.18,300.12" fill="none" stroke="#137533" stroke-width="1.0"/>
<line x1="456.74" y1="292.44" x2="459.34" y2="292.44" stroke="#8b3da8" stroke-width="0.6"/>
<line x1="458.04" y1="292.44" x2="458.04" y2="296.37" stroke="#8b3da8" stroke-width="0.6"/>
<circle cx="400.00" cy="252.71" r="1.8" fill="#8b3da8"/>
<circle cx="414.91" cy="252.71" r="1.8" fill="#8b3da8"/>
<circle cx="425.69" cy="257.55" r="1.8" fill="#8b3da8"/>
<circle cx="436.50" cy="268.74" r="1.8" fill="#8b3da8"/>
<circle cx="447.23" cy="286.94" r="1.8" fill="#8b3da8"/>
<circle cx="458.04" cy="296.07" r="1.8" fill="#8b3da8"/>
<circle cx="468.82" cy="302.11" r="1.8" fill="#8b3da8"/>
<circle cx="479.61" cy="302.11" r="1.8" fill="#8b3da8"/>
<circle cx="490.40" cy="304.11" r="1.8" fill="#8b3da8"/>
<circle cx="501.18" cy="303.63" r="1.8" fill="#8b3da8"/>
<rect x="398.00" y="251.08" width="4.0" height="4.0" fill="#137533"/>
<rect x="412.91" y="256.40" width="4.0" height="4.0" fill="#137533"/>
<rect x="423.69" y="268.91" width="4.0" height="4.0" fill="#137533"/>
<rect x="434.50" y="289.05" width="4.0" height="4.0" fill="#137533"/>
<rect x="445.23" y="295.64" width="4.0" height="4.0" fill="#137533"/>
<rect x="456.04" y="297.45" width="4.0" height="4.0" fill="#137533"/>
<rect x="466.82" y="298.66" width="4.0" height="4.0" fill="#137533"/>
<rect x="477.61" y="299.27" width="4.0" height="4.0" fill="#137533"/>
<rect x="488.40" y="299.27" width="4.0" height="4.0" fill="#137533"/>
<rect x="499.18" y="297.69" width="4.0" height="4.0" fill="#137533"/>
<line x1="430.1" y1="227.5" x2="441.5" y2="227.5" stroke="#137533" stroke-width="0.9"/>
<rect x="433.85" y="225.55" width="3.9" height="3.9" fill="#137533"/>
<text class="g" x="444.6" y="230.4" font-size="7.45" text-anchor="start" font-weight="normal" fill="#1a1a1a">KRAS G12C GppNHp</text>
<line x1="430.1" y1="238.5" x2="441.5" y2="238.5" stroke="#8b3da8" stroke-width="0.9"/>
<circle cx="435.80" cy="238.50" r="1.75" fill="#8b3da8"/>
<text class="g" x="444.6" y="241.4" font-size="7.45" text-anchor="start" font-weight="normal" fill="#1a1a1a">KRAS G12C GTP</text>
</svg>
</body></html>
